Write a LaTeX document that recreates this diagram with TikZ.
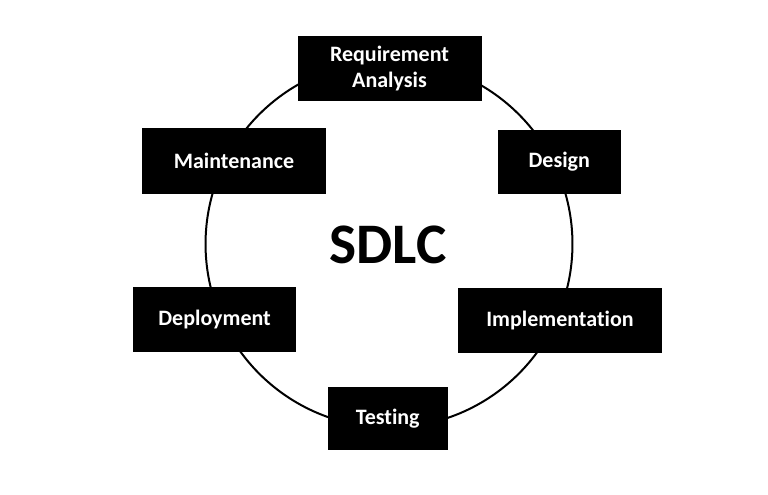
\documentclass[tikz,border=0pt]{standalone}
\usepackage{fontspec}
\setmainfont[Ligatures=NoCommon]{Carlito}

\begin{document}
\begin{tikzpicture}[x=0.75pt,y=-0.75pt,
    phase/.style={fill=black,text=white,inner sep=0pt,align=center,
      font=\bfseries\fontsize{16.5}{20}\selectfont}]
          \useasboundingbox (0,0) rectangle (768,494);
          \coordinate (centre) at (389,244);
          \draw[line width=1.5pt] (centre) circle[radius=137.6pt];
          \node[phase,minimum width=138pt,minimum height=48.8pt] (req) at (389.5,68.5) {Requirement\\Analysis};
          \node[phase,minimum width=92.2pt,minimum height=47.5pt] (design) at (559.3,162) {Design};
          \node[phase,minimum width=152.7pt,minimum height=49.2pt] (impl) at (560,320.5) {Implementation};
          \node[phase,minimum width=90.3pt,minimum height=47.5pt] (test) at (387.7,418.7) {Testing};
          \node[phase,minimum width=122.2pt,minimum height=49.2pt] (deploy) at (214.6,319.5) {Deployment};
          \node[phase,minimum width=137.6pt,minimum height=48.8pt] (maint) at (234,161) {Maintenance};
          \node[anchor=base,font=\bfseries\fontsize{43}{50}\selectfont] (sdlc) at (388,263) {SDLC};
        \end{tikzpicture}
\end{document}
